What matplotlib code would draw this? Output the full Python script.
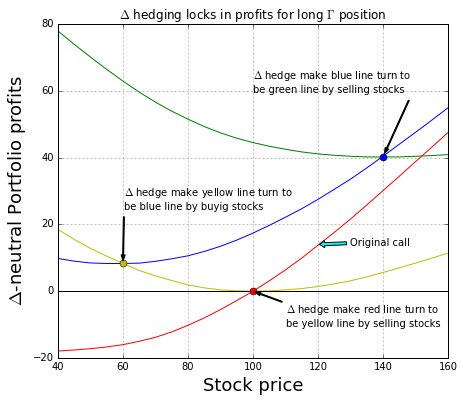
import matplotlib
matplotlib.use("Agg")
import matplotlib.pyplot as plt

# precio de la accion
precios = [40, 45, 50, 55, 60, 65, 70, 75, 80, 85, 90, 95, 100,
           105, 110, 115, 120, 125, 130, 135, 140, 145, 150, 155, 160]

# curvas
call_original = [-17.9, -17.6, -17.2, -16.7, -16.0, -15.0, -13.8, -12.2, -10.2, -8.0, -5.5, -2.8, 0.0,
                 3.1, 6.4, 9.9, 13.8, 17.6, 21.6, 25.8, 30.1, 34.4, 38.8, 43.1, 47.5]
cubierta_100 = [18.5, 15.5, 12.8, 10.5, 8.3, 6.2, 4.6, 3.2, 1.9, 1.0, 0.4, 0.1, 0.0,
                0.1, 0.4, 0.8, 1.4, 2.2, 3.1, 4.3, 5.6, 7.0, 8.4, 9.9, 11.4]
cubierta_60 = [9.8, 9.0, 8.45, 8.3, 8.3, 8.4, 8.95, 9.7, 10.6, 11.9, 13.45, 15.3, 17.4,
               19.7, 22.15, 24.7, 27.5, 30.5, 33.55, 36.9, 40.4, 44.0, 47.55, 51.2, 54.9]
cubierta_140 = [77.9, 73.9, 70.1, 66.4, 62.9, 59.6, 56.6, 53.9, 51.5, 49.3, 47.4, 45.8, 44.5,
                43.4, 42.5, 41.7, 41.1, 40.7, 40.4, 40.2, 40.2, 40.2, 40.4, 40.6, 40.9]

# puntos de cobertura
punto_rojo = (100, 0.0)
punto_amarillo = (60, 8.3)
punto_azul = (140, 40.2)

plt.style.use("classic")
fig = plt.figure(figsize=(463 / 72, 403 / 72), dpi=72, facecolor="white")
ax = fig.add_axes([58 / 463, 1 - 358 / 403, 390 / 463, 334 / 403])
ax.set_axisbelow(True)

ax.plot(precios, call_original, "r-", lw=1)
ax.plot(precios, cubierta_100, "y-", lw=1)
ax.plot(precios, cubierta_60, "b-", lw=1)
ax.plot(precios, cubierta_140, "g-", lw=1)
ax.axhline(0, color="k", lw=1)

ax.plot(*punto_rojo, "ro", ms=7)
ax.plot(*punto_amarillo, "yo", ms=7)
ax.plot(*punto_azul, "bo", ms=7)

ax.set_xlim(40, 160)
ax.set_ylim(-20, 80)
ax.grid(True, color="0.6", linestyle="--", dashes=(2, 2), lw=0.6)
ax.tick_params(labelsize=10)

ax.set_title(r"$\Delta$ hedging locks in profits for long $\Gamma$ position", fontsize=12)
ax.set_xlabel("Stock price", fontsize=18)
ax.set_ylabel(r"$\Delta$-neutral Portfolio profits", fontsize=18)

flecha = dict(facecolor="black", width=1, headwidth=4, headlength=6, shrink=0.05)
ax.annotate("$\\Delta$ hedge make blue line turn to\nbe green line by selling stocks",
            xy=punto_azul, xytext=(100, 59.4), fontsize=10, arrowprops=flecha)
ax.annotate("$\\Delta$ hedge make yellow line turn to\nbe blue line by buyig stocks",
            xy=punto_amarillo, xytext=(60.3, 24.4), fontsize=10, arrowprops=flecha)
ax.annotate("$\\Delta$ hedge make red line turn to\nbe yellow line by selling stocks",
            xy=punto_rojo, xytext=(110.2, -10.7), fontsize=10, arrowprops=flecha)
ax.annotate("Original call", xy=(120, 14), xytext=(130, 13.5), fontsize=10,
            arrowprops=dict(facecolor="cyan", width=3, headwidth=7, headlength=5, shrink=0.05))

fig.savefig("out.png", dpi=72, facecolor="white")
